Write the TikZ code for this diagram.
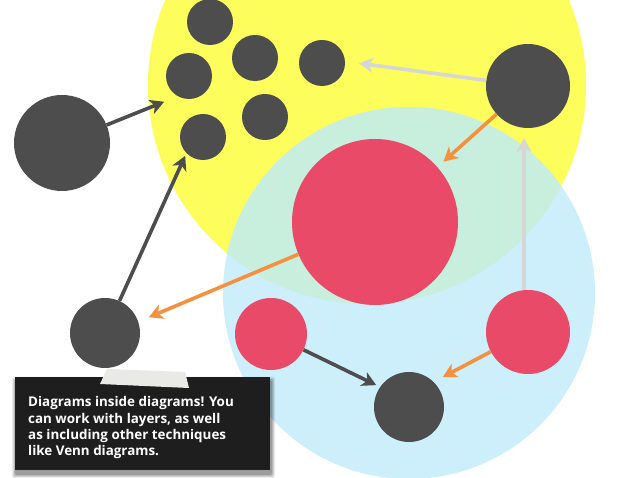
\documentclass[tikz,border=0pt]{standalone}
\usepackage{fontspec}
\setmainfont{Open Sans}
\usetikzlibrary{arrows.meta}
\definecolor{yel}{HTML}{FDFD5C}
\definecolor{sky}{HTML}{CDEEFB}
\definecolor{mint}{HTML}{C8EEDD}
\definecolor{dark}{HTML}{4D4D4D}
\definecolor{rose}{HTML}{E94A67}
\definecolor{ora}{HTML}{F5913E}
\definecolor{lgray}{HTML}{D6D6D6}
\definecolor{boxc}{HTML}{1E1E1E}
\definecolor{tapec}{HTML}{E9E9E5}
\tikzset{
  dot/.style={circle,fill=dark,inner sep=0pt,minimum size=#1},
  rdot/.style={circle,fill=rose,inner sep=0pt,minimum size=#1},
  con/.style={line width=3.6pt,-{Stealth[length=14pt,width=15pt,inset=4pt]},shorten >=2pt,shorten <=0pt},
  dk/.style={con,draw=dark},
  og/.style={con,draw=ora},
  gy/.style={con,draw=lgray},
}
\begin{document}
\begin{tikzpicture}[x=1pt,y=-1pt]
\useasboundingbox (0,0) rectangle (638,478);
\fill[white] (0,0) rectangle (638,478);
% Venn
\fill[yel] (367,85) circle (219);
\fill[sky] (409,293) circle (186);
\begin{scope}
\clip (409,293) circle (186);
\fill[mint] (367,85) circle (219);
\end{scope}
% nodes
\node[dot=46pt] (a1) at (210,22) {};
\node[dot=46pt] (a2) at (255,58) {};
\node[dot=46pt] (a3) at (189,76) {};
\node[dot=46pt] (a4) at (322,63) {};
\node[dot=46pt] (a5) at (265,117) {};
\node[dot=46pt] (a6) at (203,137) {};
\node[dot=96pt] (L) at (62,143) {};
\node[dot=84pt] (R) at (528,86) {};
\node[dot=70pt] (BL) at (105,333) {};
\node[dot=70pt] (BC) at (409,407) {};
\node[rdot=166pt] (BR) at (375,222) {};
\node[rdot=72pt] (SR) at (271,334) {};
\node[rdot=84pt] (RR) at (528,332) {};
% targets
\coordinate (t1) at (166,101);
\coordinate (t2) at (186,154);
\coordinate (t3) at (357,63);
\coordinate (t4) at (442,163);
\coordinate (t5) at (524,136);
\coordinate (t6) at (147,318);
\coordinate (t7) at (378,386);
\coordinate (t8) at (441,378);
% connectors
\draw[dk] (L) -- (t1);
\draw[dk] (BL) -- (t2);
\draw[gy] (R) -- (t3);
\draw[og] (R) -- (t4);
\draw[gy] (RR.north -| t5) -- (t5);
\draw[og] (BR) -- (t6);
\draw[dk] (SR) -- (t7);
\draw[og] (RR) -- (t8);
% caption box with shadow
\foreach \i/\o in {4/0.08,3/0.10,2/0.12,1/0.15}{
  \fill[black,opacity=\o,rounded corners=2pt] (15-\i+1,378-\i+3) rectangle (270+\i+1,471+\i+3);
}
\node[fill=boxc,inner sep=0pt,minimum width=255pt,minimum height=93pt,anchor=north west] (box) at (15,377) {};
\node[anchor=north west,text=white,font=\bfseries\fontsize{13.4}{16.2}\selectfont,align=left,inner sep=0pt] (txt) at (28,396.5) {Diagrams inside diagrams! You\\can work with layers, as well\\as including other techniques\\like Venn diagrams.};
% tape
\fill[tapec] (100,384) -- (107,369) -- (185,372) -- (189,388) -- cycle;
\end{tikzpicture}
\end{document}
